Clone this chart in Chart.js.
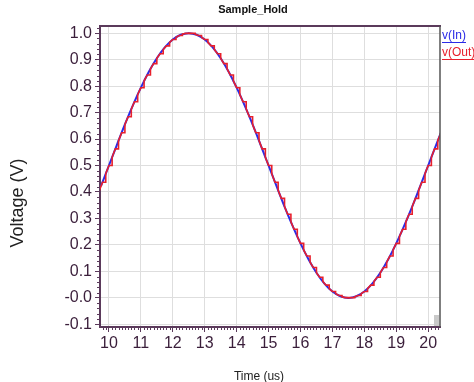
<!DOCTYPE html>
<html><head><meta charset="utf-8">
<script src="https://cdn.jsdelivr.net/npm/chart.js@4"></script>
<style>html,body{margin:0;padding:0;background:#fff}#wrap{width:474px;height:382px;position:relative}</style>
</head><body><div id="wrap"><canvas id="c" width="474" height="382"></canvas></div>
<script>
// ---- data ----
const chartTitle = "Sample_Hold";
const seriesNames = ["v(In)", "v(Out)"];
const xAxisTitle = "Time (us)";
const yAxisTitle = "Voltage (V)";

// input sine
const tIn = [9.75,10,10.25,10.5,10.75,11,11.25,11.5,11.75,12,12.25,12.5,12.75,13,13.25,13.5,13.75,14,14.25,14.5,14.75,15,15.25,15.5,15.75,16,16.25,16.5,16.75,17,17.25,17.5,17.75,18,18.25,18.5,18.75,19,19.25,19.5,19.75,20,20.25,20.5];
const vIn = [0.422,0.5,0.578,0.655,0.727,0.794,0.854,0.905,0.946,0.976,0.994,1.0,0.994,0.976,0.946,0.905,0.854,0.794,0.727,0.655,0.578,0.5,0.422,0.345,0.273,0.206,0.146,0.095,0.054,0.024,0.006,0.0,0.006,0.024,0.054,0.095,0.146,0.206,0.273,0.345,0.422,0.5,0.578,0.655];

// output: hold starts (sample instants) and their held values
const tHold = [9.6,9.8,10.0,10.2,10.4,10.6,10.8,11.0,11.2,11.4,11.6,11.8,12.0,12.2,12.4,12.6,12.8,13.0,13.2,13.4,13.6,13.8,14.0,14.2,14.4,14.6,14.8,15.0,15.2,15.4,15.6,15.8,16.0,16.2,16.4,16.6,16.8,17.0,17.2,17.4,17.6,17.8,18.0,18.2,18.4,18.6,18.8,19.0,19.2,19.4,19.6,19.8,20.0,20.2,20.4];
const vHold = [0.376,0.437,0.5,0.563,0.624,0.684,0.741,0.794,0.842,0.885,0.922,0.952,0.976,0.991,0.999,0.999,0.991,0.976,0.952,0.922,0.885,0.842,0.794,0.741,0.684,0.624,0.563,0.5,0.437,0.376,0.316,0.259,0.206,0.158,0.115,0.078,0.048,0.024,0.009,0.001,0.001,0.009,0.024,0.048,0.078,0.115,0.158,0.206,0.259,0.316,0.376,0.437,0.5,0.563,0.624];
// output: track restarts and the value it jumps back to
const tTrack = [9.7,9.9,10.1,10.3,10.5,10.7,10.9,11.1,11.3,11.5,11.7,11.9,12.1,12.3,12.5,12.7,12.9,13.1,13.3,13.5,13.7,13.9,14.1,14.3,14.5,14.7,14.9,15.1,15.3,15.5,15.7,15.9,16.1,16.3,16.5,16.7,16.9,17.1,17.3,17.5,17.7,17.9,18.1,18.3,18.5,18.7,18.9,19.1,19.3,19.5,19.7,19.9,20.1,20.3];
const vTrack = [0.406,0.469,0.531,0.594,0.655,0.713,0.768,0.819,0.865,0.905,0.938,0.965,0.984,0.996,1.0,0.996,0.984,0.965,0.938,0.905,0.865,0.819,0.768,0.713,0.655,0.594,0.531,0.469,0.406,0.345,0.287,0.232,0.181,0.135,0.095,0.062,0.035,0.016,0.004,0.0,0.004,0.016,0.035,0.062,0.095,0.135,0.181,0.232,0.287,0.345,0.406,0.469,0.531,0.594];

const xTicks = [10,11,12,13,14,15,16,17,18,19,20];
const xTickLabels = ["10","11","12","13","14","15","16","17","18","19","20"];
const yTicks = [-0.1,0,0.1,0.2,0.3,0.4,0.5,0.6,0.7,0.8,0.9,1.0];
const yTickLabels = ["-0.1","-0.0","0.1","0.2","0.3","0.4","0.5","0.6","0.7","0.8","0.9","1.0"];

// build the track-and-hold polyline from the arrays above
const outPoints = [];
tHold.forEach((t, i) => {
  outPoints.push({ x: t, y: vHold[i] });
  if (i < tTrack.length) {
    outPoints.push({ x: tTrack[i], y: vHold[i] });
    outPoints.push({ x: tTrack[i], y: vTrack[i] });
  }
});

// ---- styling ----
const AXIS = '#5b3a5b';
const LABEL = '#3a1e3a';
const GRID = '#dedede';
const BLUE = '#2b2be6';
const RED = '#e8202c';
const TICKFONT = "'Liberation Sans Narrow','Arial Narrow','Liberation Sans',Arial,sans-serif";
const FONT = "'Liberation Sans',Arial,sans-serif";

const decorPlugin = {
  id: 'decor',
  afterDraw(chart) {
    const ctx = chart.ctx, a = chart.chartArea, xs = chart.scales.x, ys = chart.scales.y;
    ctx.save();
    // minor ticks
    ctx.strokeStyle = AXIS; ctx.lineWidth = 1;
    ctx.beginPath();
    for (let k = 98; k <= 203; k++) {
      if (k % 10 === 0) continue;
      const px = Math.round(xs.getPixelForValue(k / 10)) + 0.5;
      if (px < a.left || px > a.right) continue;
      ctx.moveTo(px, a.bottom); ctx.lineTo(px, a.bottom + 3);
    }
    for (let k = -5; k <= 51; k++) {
      if (k % 5 === 0) continue;
      const py = Math.round(ys.getPixelForValue(k / 50)) + 0.5;
      if (py < a.top || py > a.bottom) continue;
      ctx.moveTo(a.left - 3, py); ctx.lineTo(a.left, py);
    }
    ctx.stroke();
    // top & right frame
    ctx.strokeStyle = AXIS; ctx.lineWidth = 2;
    ctx.beginPath(); ctx.moveTo(a.left - 1, a.top); ctx.lineTo(a.right + 1, a.top); ctx.stroke();
    ctx.strokeStyle = '#555'; ctx.lineWidth = 1.5;
    ctx.beginPath(); ctx.moveTo(a.right, a.top); ctx.lineTo(a.right, a.bottom); ctx.stroke();
    // small grey scroll box
    ctx.fillStyle = '#c9c9c9';
    ctx.fillRect(a.right - 6, a.bottom - 12, 5, 11);
    // title
    ctx.fillStyle = '#111';
    ctx.font = "bold 11px " + FONT;
    ctx.textAlign = 'center'; ctx.textBaseline = 'middle';
    ctx.fillText(chartTitle, 253, 10);
    // x axis title
    ctx.font = "12px " + FONT;
    ctx.fillStyle = '#222';
    ctx.fillText(xAxisTitle, 259, 377);
    // y axis title
    ctx.save();
    ctx.translate(18, 203); ctx.rotate(-Math.PI / 2);
    ctx.font = "18px " + FONT;
    ctx.fillText(yAxisTitle, 0, 0);
    ctx.restore();
    // legend
    ctx.font = "12px " + FONT;
    ctx.textAlign = 'left';
    const cols = [BLUE, RED];
    const ly = [36, 53];
    seriesNames.forEach((n, i) => {
      ctx.fillStyle = cols[i];
      ctx.fillText(n, 442, ly[i]);
      const w = ctx.measureText(n).width;
      ctx.strokeStyle = cols[i]; ctx.lineWidth = 1;
      ctx.beginPath(); ctx.moveTo(442, ly[i] + 6.5); ctx.lineTo(442 + w, ly[i] + 6.5); ctx.stroke();
    });
    ctx.restore();
  }
};

new Chart(document.getElementById('c'), {
  type: 'line',
  data: {
    datasets: [
      {
        label: seriesNames[0],
        data: tIn.map((t, i) => ({ x: t, y: vIn[i] })),
        borderColor: BLUE, borderWidth: 2, pointRadius: 0,
        cubicInterpolationMode: 'monotone', fill: false, order: 1
      },
      {
        label: seriesNames[1],
        data: outPoints,
        borderColor: RED, borderWidth: 1.6, pointRadius: 0,
        tension: 0, fill: false, order: 0
      }
    ]
  },
  options: {
    responsive: false,
    animation: false,
    events: [],
    layout: { padding: { top: 26, right: 34, left: 0, bottom: 0 } },
    plugins: { legend: { display: false }, title: { display: false }, tooltip: { enabled: false } },
    scales: {
      x: {
        type: 'linear', min: 9.72, max: 20.37,
        afterBuildTicks: s => { s.ticks = xTicks.map(v => ({ value: v })); },
        afterFit: s => { s.height = 55; },
        ticks: {
          autoSkip: false, maxRotation: 0, padding: 2,
          color: LABEL, font: { family: TICKFONT, size: 16 },
          callback: (v, i) => xTickLabels[i]
        },
        grid: { color: GRID, lineWidth: 1, tickColor: AXIS, tickLength: 5 },
        border: { color: AXIS, width: 2 }
      },
      y: {
        type: 'linear', min: -0.11, max: 1.027,
        afterBuildTicks: s => { s.ticks = yTicks.map(v => ({ value: v })); },
        afterFit: s => { s.width = 100; },
        ticks: {
          autoSkip: false, padding: 3,
          color: LABEL, font: { family: TICKFONT, size: 16 },
          callback: (v, i) => yTickLabels[i]
        },
        grid: { color: GRID, lineWidth: 1, tickColor: AXIS, tickLength: 5 },
        border: { color: AXIS, width: 2 }
      }
    }
  },
  plugins: [decorPlugin]
});
</script>
</body></html>
